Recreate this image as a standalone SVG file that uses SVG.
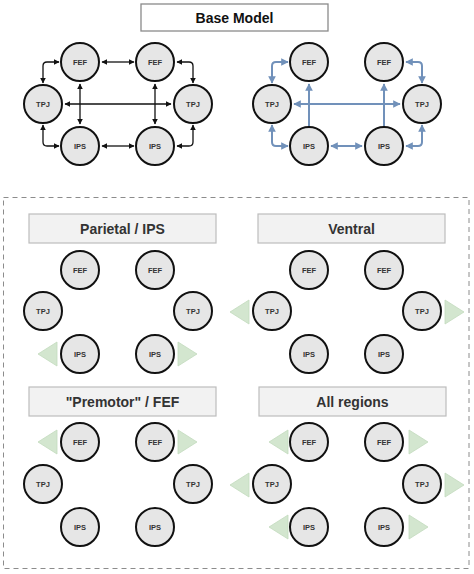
<svg xmlns="http://www.w3.org/2000/svg" width="474" height="574" viewBox="0 0 474 574">
<defs>
<style>
.n{fill:#e6e6e6;stroke:#111;stroke-width:2}
.nt{font-family:"Liberation Sans",Arial,sans-serif;font-size:7.5px;font-weight:bold;fill:#333;text-anchor:middle;dominant-baseline:central}
.title{font-family:"Liberation Sans",Arial,sans-serif;font-size:14px;font-weight:bold;fill:#333;text-anchor:middle;dominant-baseline:central}
.tbox{fill:#f2f2f2;stroke:#bdbdbd;stroke-width:1.2}
.bk{fill:none;stroke:#111;stroke-width:1.3}
.bl{fill:none;stroke:#7191ba;stroke-width:2}
.tri{fill:#d3e6cf;stroke:#c3dbbe;stroke-width:0.8}
</style>
<marker id="ak" viewBox="0 0 10 10" refX="9" refY="5" markerWidth="4.5" markerHeight="4.5" orient="auto-start-reverse" markerUnits="strokeWidth"><path d="M0,0 L10,5 L0,10 z" fill="#111"/></marker>
<marker id="ab" viewBox="0 0 10 10" refX="9" refY="5" markerWidth="3.8" markerHeight="3.8" orient="auto-start-reverse" markerUnits="strokeWidth"><path d="M0,0 L10,5 L0,10 z" fill="#7191ba"/></marker>
</defs>
<rect width="474" height="574" fill="#fff"/>

<g id="base-title">
<rect x="141" y="4" width="187" height="27" fill="#fff" stroke="#8a8a8a" stroke-width="1.3"/>
<text x="234.5" y="18" class="title" style="fill:#111">Base Model</text>
</g>

<g id="connectors">
<path class="bk" d="M102,62 H134" marker-start="url(#ak)" marker-end="url(#ak)"/>
<path class="bk" d="M102,146 H134" marker-start="url(#ak)" marker-end="url(#ak)"/>
<path class="bk" d="M65,104 H171" marker-start="url(#ak)" marker-end="url(#ak)"/>
<path class="bk" d="M80,84 V124" marker-start="url(#ak)" marker-end="url(#ak)"/>
<path class="bk" d="M155,84 V124" marker-start="url(#ak)" marker-end="url(#ak)"/>
<path class="bk" d="M59,62 H47 Q43,62 43,66 V83" marker-start="url(#ak)" marker-end="url(#ak)"/>
<path class="bk" d="M177,62 H189 Q193,62 193,66 V83" marker-start="url(#ak)" marker-end="url(#ak)"/>
<path class="bk" d="M43,125 V142 Q43,146 47,146 H59" marker-start="url(#ak)" marker-end="url(#ak)"/>
<path class="bk" d="M193,125 V142 Q193,146 189,146 H177" marker-start="url(#ak)" marker-end="url(#ak)"/>

<path class="bl" d="M294,104 H400" marker-start="url(#ab)" marker-end="url(#ab)"/>
<path class="bl" d="M331,146 H362" marker-start="url(#ab)" marker-end="url(#ab)"/>
<path class="bl" d="M309,127 V84" marker-end="url(#ab)"/>
<path class="bl" d="M384,127 V84" marker-end="url(#ab)"/>
<path class="bl" d="M288,62 H276 Q272,62 272,66 V83" marker-start="url(#ab)" marker-end="url(#ab)"/>
<path class="bl" d="M406,62 H418 Q422,62 422,66 V83" marker-start="url(#ab)" marker-end="url(#ab)"/>
<path class="bl" d="M272,125 V142 Q272,146 276,146 H288" marker-start="url(#ab)" marker-end="url(#ab)"/>
<path class="bl" d="M422,125 V142 Q422,146 418,146 H406" marker-start="url(#ab)" marker-end="url(#ab)"/>
</g>

<g id="base-left-nodes">
<g id="bl-fef1"><circle class="n" cx="80" cy="62" r="19"/><text class="nt" x="80" y="62">FEF</text></g>
<g id="bl-fef2"><circle class="n" cx="155" cy="62" r="19"/><text class="nt" x="155" y="62">FEF</text></g>
<g id="bl-tpj1"><circle class="n" cx="43" cy="104" r="19"/><text class="nt" x="43" y="104">TPJ</text></g>
<g id="bl-tpj2"><circle class="n" cx="193" cy="104" r="19"/><text class="nt" x="193" y="104">TPJ</text></g>
<g id="bl-ips1"><circle class="n" cx="80" cy="146" r="19"/><text class="nt" x="80" y="146">IPS</text></g>
<g id="bl-ips2"><circle class="n" cx="155" cy="146" r="19"/><text class="nt" x="155" y="146">IPS</text></g>
</g>
<g id="base-right-nodes">
<g id="br-fef1"><circle class="n" cx="309" cy="62" r="19"/><text class="nt" x="309" y="62">FEF</text></g>
<g id="br-fef2"><circle class="n" cx="384" cy="62" r="19"/><text class="nt" x="384" y="62">FEF</text></g>
<g id="br-tpj1"><circle class="n" cx="272" cy="104" r="19"/><text class="nt" x="272" y="104">TPJ</text></g>
<g id="br-tpj2"><circle class="n" cx="422" cy="104" r="19"/><text class="nt" x="422" y="104">TPJ</text></g>
<g id="br-ips1"><circle class="n" cx="309" cy="146" r="19"/><text class="nt" x="309" y="146">IPS</text></g>
<g id="br-ips2"><circle class="n" cx="384" cy="146" r="19"/><text class="nt" x="384" y="146">IPS</text></g>
</g>

<rect x="3.5" y="197.5" width="465.5" height="371" fill="none" stroke="#8c8c8c" stroke-width="1" stroke-dasharray="5,4"/>

<g id="panel-parietal">
<rect class="tbox" x="29" y="214" width="187" height="29"/>
<text class="title" x="122.5" y="229">Parietal / IPS</text>
<polygon class="tri" points="38,354 57,342 57,366"/>
<polygon class="tri" points="197,354 178,342 178,366"/>
<g id="p1-fef1"><circle class="n" cx="80" cy="270" r="19"/><text class="nt" x="80" y="270">FEF</text></g>
<g id="p1-fef2"><circle class="n" cx="155" cy="270" r="19"/><text class="nt" x="155" y="270">FEF</text></g>
<g id="p1-tpj1"><circle class="n" cx="43" cy="311" r="19"/><text class="nt" x="43" y="311">TPJ</text></g>
<g id="p1-tpj2"><circle class="n" cx="193" cy="311" r="19"/><text class="nt" x="193" y="311">TPJ</text></g>
<g id="p1-ips1"><circle class="n" cx="80" cy="354" r="19"/><text class="nt" x="80" y="354">IPS</text></g>
<g id="p1-ips2"><circle class="n" cx="155" cy="354" r="19"/><text class="nt" x="155" y="354">IPS</text></g>
</g>

<g id="panel-ventral">
<rect class="tbox" x="258" y="214" width="187" height="29"/>
<text class="title" x="351.5" y="229">Ventral</text>
<polygon class="tri" points="230,312 249,300 249,324"/>
<polygon class="tri" points="464,312 445,300 445,324"/>
<g id="p2-fef1"><circle class="n" cx="309" cy="270" r="19"/><text class="nt" x="309" y="270">FEF</text></g>
<g id="p2-fef2"><circle class="n" cx="384" cy="270" r="19"/><text class="nt" x="384" y="270">FEF</text></g>
<g id="p2-tpj1"><circle class="n" cx="272" cy="311" r="19"/><text class="nt" x="272" y="311">TPJ</text></g>
<g id="p2-tpj2"><circle class="n" cx="422" cy="311" r="19"/><text class="nt" x="422" y="311">TPJ</text></g>
<g id="p2-ips1"><circle class="n" cx="309" cy="354" r="19"/><text class="nt" x="309" y="354">IPS</text></g>
<g id="p2-ips2"><circle class="n" cx="384" cy="354" r="19"/><text class="nt" x="384" y="354">IPS</text></g>
</g>

<g id="panel-premotor">
<rect class="tbox" x="29" y="387" width="187" height="29"/>
<text class="title" x="122.5" y="402">"Premotor" / FEF</text>
<polygon class="tri" points="38,442 57,430 57,454"/>
<polygon class="tri" points="197,442 178,430 178,454"/>
<g id="p3-fef1"><circle class="n" cx="80" cy="442" r="19"/><text class="nt" x="80" y="442">FEF</text></g>
<g id="p3-fef2"><circle class="n" cx="155" cy="442" r="19"/><text class="nt" x="155" y="442">FEF</text></g>
<g id="p3-tpj1"><circle class="n" cx="43" cy="484" r="19"/><text class="nt" x="43" y="484">TPJ</text></g>
<g id="p3-tpj2"><circle class="n" cx="193" cy="484" r="19"/><text class="nt" x="193" y="484">TPJ</text></g>
<g id="p3-ips1"><circle class="n" cx="80" cy="527" r="19"/><text class="nt" x="80" y="527">IPS</text></g>
<g id="p3-ips2"><circle class="n" cx="155" cy="527" r="19"/><text class="nt" x="155" y="527">IPS</text></g>
</g>

<g id="panel-all">
<rect class="tbox" x="259" y="387" width="187" height="29"/>
<text class="title" x="352.5" y="402">All regions</text>
<polygon class="tri" points="269,442 288,430 288,454"/>
<polygon class="tri" points="428,442 409,430 409,454"/>
<polygon class="tri" points="230,485 249,473 249,497"/>
<polygon class="tri" points="464,485 445,473 445,497"/>
<polygon class="tri" points="269,527 288,515 288,539"/>
<polygon class="tri" points="428,527 409,515 409,539"/>
<g id="p4-fef1"><circle class="n" cx="309" cy="442" r="19"/><text class="nt" x="309" y="442">FEF</text></g>
<g id="p4-fef2"><circle class="n" cx="384" cy="442" r="19"/><text class="nt" x="384" y="442">FEF</text></g>
<g id="p4-tpj1"><circle class="n" cx="272" cy="484" r="19"/><text class="nt" x="272" y="484">TPJ</text></g>
<g id="p4-tpj2"><circle class="n" cx="422" cy="484" r="19"/><text class="nt" x="422" y="484">TPJ</text></g>
<g id="p4-ips1"><circle class="n" cx="309" cy="527" r="19"/><text class="nt" x="309" y="527">IPS</text></g>
<g id="p4-ips2"><circle class="n" cx="384" cy="527" r="19"/><text class="nt" x="384" y="527">IPS</text></g>
</g>
</svg>
